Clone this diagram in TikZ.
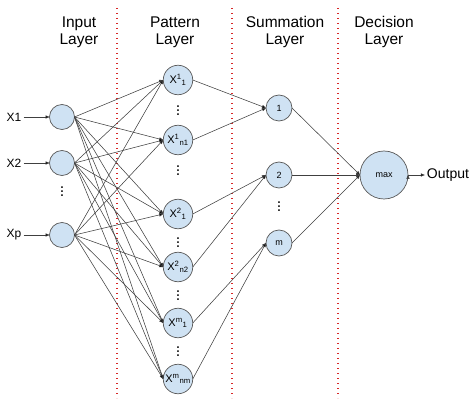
\documentclass[tikz,border=0pt]{standalone}
\usepackage{fontspec}
\setmainfont{Liberation Sans}
\usetikzlibrary{arrows.meta}
\definecolor{cellfill}{HTML}{CFE2F3}
\definecolor{cellline}{HTML}{595959}
\definecolor{sepred}{RGB}{215,40,40}

\begin{document}
\begin{tikzpicture}[x=1pt,y=-1pt,
  unit/.style={draw=cellline,circle,line width=0.7pt,fill=cellfill,inner sep=0pt,outer sep=0pt},
  inunit/.style={unit,minimum size=25pt},
  patunit/.style={unit,minimum size=29.5pt,font=\fontsize{11}{11}\selectfont},
  sumunit/.style={unit,minimum size=26pt,font=\fontsize{9}{9}\selectfont},
  maxunit/.style={unit,minimum size=48pt,font=\fontsize{9}{9}\selectfont},
  lbl/.style={inner sep=2pt,font=\fontsize{12}{12}\selectfont},
  head/.style={align=center,font=\fontsize{15.5}{17}\selectfont},
  vdot/.style={inner sep=0pt,font=\fontsize{16}{16}\selectfont},
  edge/.style={draw=black!75,line width=0.55pt,-{Triangle[length=4pt,width=3.2pt]}},
  sep/.style={draw=sepred,line width=1.2pt,dash pattern=on 1.2pt off 3.8pt}]
        \useasboundingbox (0,0) rectangle (474,406);
        \path
          (62,117)  node[inunit] (i1) {}
          (62,163)  node[inunit] (i2) {}
          (62,235)  node[inunit] (ip) {}
          (178,80)  node[patunit] (p11) {X\textsuperscript{1}\textsubscript{1}}
          (178,140) node[patunit] (p1n) {X\textsuperscript{1}\textsubscript{n1}}
          (178,214) node[patunit] (p21) {X\textsuperscript{2}\textsubscript{1}}
          (178,267) node[patunit] (p2n) {X\textsuperscript{2}\textsubscript{n2}}
          (178,323) node[patunit] (pm1) {X\textsuperscript{m}\textsubscript{1}}
          (178,379) node[patunit] (pmn) {X\textsuperscript{m}\textsubscript{nm}}
          (279,108) node[sumunit] (s1) {1}
          (279,175) node[sumunit] (s2) {2}
          (279,243) node[sumunit] (sm) {m}
          (384,175) node[maxunit] (mx) {max};
        \node[lbl] (x1) at (14,117) {X1};
        \node[lbl] (x2) at (14,163) {X2};
        \node[lbl] (xp) at (14,235) {Xp};
        \node[lbl,font=\fontsize{14}{14}\selectfont] (out) at (448,175) {Output};
        \node[head] (hin)  at (79,32)  {Input\\Layer};
        \node[head] (hpat) at (175,32) {Pattern\\Layer};
        \node[head] (hsum) at (285,32) {Summation\\Layer};
        \node[head] (hdec) at (384,32) {Decision\\Layer};
        \node[vdot] (d0) at (62,189)  {$\vdots$};
        \node[vdot] (d1) at (178,108) {$\vdots$};
        \node[vdot] (d2) at (178,168) {$\vdots$};
        \node[vdot] (d3) at (178,240) {$\vdots$};
        \node[vdot] (d4) at (178,293) {$\vdots$};
        \node[vdot] (d5) at (178,349) {$\vdots$};
        \node[vdot] (d6) at (279,204) {$\vdots$};
        \draw[sep]
          (117,8) -- (117,398)
          (232,8) -- (232,398)
          (338,8) -- (338,398);
        \path[edge]
          (x1.east) edge (i1.west)
          (x2.east) edge (i2.west)
          (xp.east) edge (ip.west)
          (i1.east) edge (p11.west)
          (i1.east) edge (p1n.west)
          (i1.east) edge (p21.west)
          (i1.east) edge (p2n.west)
          (i1.east) edge (pm1.west)
          (i1.east) edge (pmn.west)
          (i2.east) edge (p11.west)
          (i2.east) edge (p1n.west)
          (i2.east) edge (p21.west)
          (i2.east) edge (p2n.west)
          (i2.east) edge (pm1.west)
          (i2.east) edge (pmn.west)
          (ip.east) edge (p11.west)
          (ip.east) edge (p1n.west)
          (ip.east) edge (p21.west)
          (ip.east) edge (p2n.west)
          (ip.east) edge (pm1.west)
          (ip.east) edge (pmn.west)
          (p11.east) edge (s1.west)
          (p1n.east) edge (s1.west)
          (p21.east) edge (s2.west)
          (p2n.east) edge (s2.west)
          (pm1.east) edge (sm.west)
          (pmn.east) edge (sm.west)
          (s1.east) edge (mx.west)
          (s2.east) edge (mx.west)
          (sm.east) edge (mx.west)
          (mx.east) edge (out.west);
      \end{tikzpicture}
\end{document}
